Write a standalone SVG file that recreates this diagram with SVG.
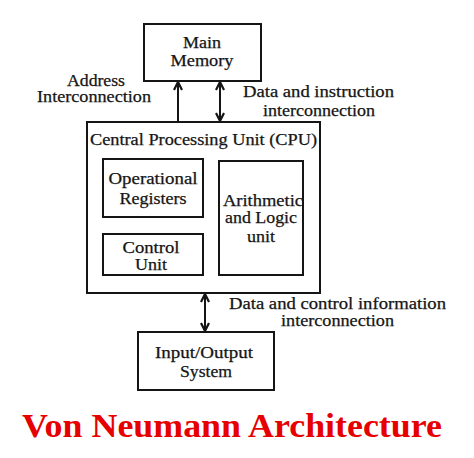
<svg xmlns="http://www.w3.org/2000/svg" width="474" height="458" viewBox="0 0 474 458">
<defs>
<style>
.box{fill:none;stroke:#151515;stroke-width:2}
.ln{stroke:#151515;stroke-width:2;fill:none}
text{font-family:"Liberation Serif","Times New Roman",serif;font-size:16px;fill:#151515;stroke:#151515;stroke-width:0.25}
.c{text-anchor:middle}
.title{font-size:34px;font-weight:bold;fill:#e60000;stroke:none}
</style>
<marker id="ah" viewBox="0 0 10 10" refX="9" refY="5" markerWidth="10" markerHeight="10" markerUnits="userSpaceOnUse" orient="auto-start-reverse">
<path d="M1,1 L9,5 L1,9" fill="none" stroke="#151515" stroke-width="2.2"/>
</marker>
</defs>
<rect width="474" height="458" fill="#ffffff"/>
<g id="main-memory">
<rect class="box" x="144" y="24" width="117" height="57"/>
<text class="c" x="202" y="48" textLength="38" lengthAdjust="spacingAndGlyphs">Main</text>
<text class="c" x="202" y="66" textLength="63" lengthAdjust="spacingAndGlyphs">Memory</text>
</g>
<g id="cpu">
<rect class="box" x="87" y="122" width="233" height="171"/>
<text x="90" y="145" textLength="227" lengthAdjust="spacingAndGlyphs">Central Processing Unit (CPU)</text>
</g>
<g id="registers">
<rect class="box" x="103" y="159" width="100" height="58"/>
<text class="c" x="153" y="184" textLength="89" lengthAdjust="spacingAndGlyphs">Operational</text>
<text class="c" x="153" y="204" textLength="67" lengthAdjust="spacingAndGlyphs">Registers</text>
</g>
<g id="control-unit">
<rect class="box" x="103" y="234" width="100" height="41"/>
<text class="c" x="151" y="253" textLength="57" lengthAdjust="spacingAndGlyphs">Control</text>
<text class="c" x="151" y="270" textLength="32" lengthAdjust="spacingAndGlyphs">Unit</text>
</g>
<g id="alu">
<rect class="box" x="219" y="161" width="84" height="114"/>
<text class="c" x="263" y="206" textLength="80" lengthAdjust="spacingAndGlyphs">Arithmetic</text>
<text class="c" x="261" y="223" textLength="72" lengthAdjust="spacingAndGlyphs">and Logic</text>
<text class="c" x="261" y="242" textLength="28" lengthAdjust="spacingAndGlyphs">unit</text>
</g>
<g id="io-system">
<rect class="box" x="138" y="332" width="136" height="58"/>
<text class="c" x="204" y="358" textLength="98" lengthAdjust="spacingAndGlyphs">Input/Output</text>
<text class="c" x="206" y="377" textLength="52" lengthAdjust="spacingAndGlyphs">System</text>
</g>
<g id="connectors">
<line class="ln" x1="178" y1="122" x2="178" y2="82" marker-end="url(#ah)"/>
<line class="ln" x1="220" y1="121" x2="220" y2="82" marker-start="url(#ah)" marker-end="url(#ah)"/>
<line class="ln" x1="205" y1="294" x2="205" y2="331" marker-start="url(#ah)" marker-end="url(#ah)"/>
<text x="67" y="86" textLength="58" lengthAdjust="spacingAndGlyphs">Address</text>
<text x="37" y="102" textLength="114" lengthAdjust="spacingAndGlyphs">Interconnection</text>
<text x="243" y="97" textLength="151" lengthAdjust="spacingAndGlyphs">Data and instruction</text>
<text x="263" y="116" textLength="112" lengthAdjust="spacingAndGlyphs">interconnection</text>
<text x="229" y="309" textLength="217" lengthAdjust="spacingAndGlyphs">Data and control information</text>
<text x="281" y="326" textLength="113" lengthAdjust="spacingAndGlyphs">interconnection</text>
</g>
<text class="title" x="22" y="437" textLength="420" lengthAdjust="spacingAndGlyphs">Von Neumann Architecture</text>
</svg>
